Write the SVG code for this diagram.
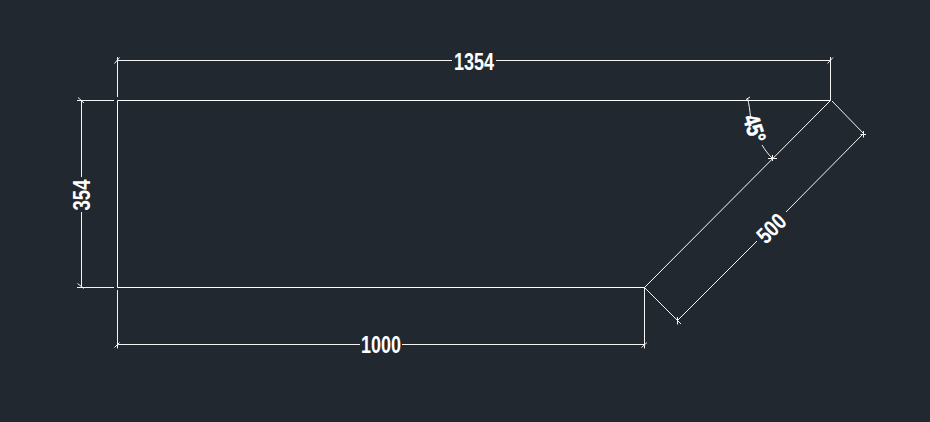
<svg xmlns="http://www.w3.org/2000/svg" width="930" height="422" viewBox="0 0 930 422">
<style>
.l{stroke:#fff;stroke-width:1;fill:none}
.d{stroke:#f4f4f4;stroke-width:1;fill:none}
.t{font-family:"Liberation Sans",Arial,sans-serif;font-size:23px;font-weight:bold;fill:#fff;text-anchor:middle}
</style>
<rect width="930" height="422" fill="#212830"/>
<g id="outline"><path class="l" d="M117.500 100.500H830.500L644.500 287.500H117.500Z"/></g>
<g id="connectors">
<path class="d" d="M117.500 57V97M830.500 57V100M117.500 60.500H452M496 60.500H830.500"/>
<path class="d" d="M114.500 63.500L119.500 57.500M827.500 63.500L833 57.500"/>
<path class="d" d="M114 100.500H77M114 287.500H77M81.500 100V177M81.500 212V288"/>
<path class="d" d="M78 97.500L84 103M77.500 283.500L84 288.500"/>
<path class="d" d="M117.500 290V348.500M644.500 287V348.500M117.500 344.500H360M402 344.500H644.500"/>
<path class="d" d="M114.500 347.500L119.500 342.500M641.500 347.500L647 342.500"/>
<path class="d" d="M832 101L864 134M645 288L678 321M863 134L786 212M757 241L677 321"/>
<path class="d" d="M863.500 131V137.500M860.500 134.500H866M677.500 317V324.500M677 320L681 324"/>
<path class="d" d="M747.500 98C749 104 750 111 750.500 117M762 145C765 150 768 154 772.500 158.500M746 99.500L750 97M768 158.500H777M772.500 155V161"/>
</g>
<g id="labels">
<text class="t" x="474" y="70" textLength="40" lengthAdjust="spacingAndGlyphs">1354</text>
<text class="t" x="381" y="353" textLength="40" lengthAdjust="spacingAndGlyphs">1000</text>
<text class="t" transform="translate(89.500,195) rotate(-90)" textLength="31" lengthAdjust="spacingAndGlyphs">354</text>
<text class="t" transform="translate(777,234) rotate(-45)" textLength="31" lengthAdjust="spacingAndGlyphs">500</text>
<text class="t" style="stroke:#fff;stroke-width:.6" transform="translate(747,131) rotate(72)" textLength="28" lengthAdjust="spacingAndGlyphs">45°</text>
</g>
</svg>
